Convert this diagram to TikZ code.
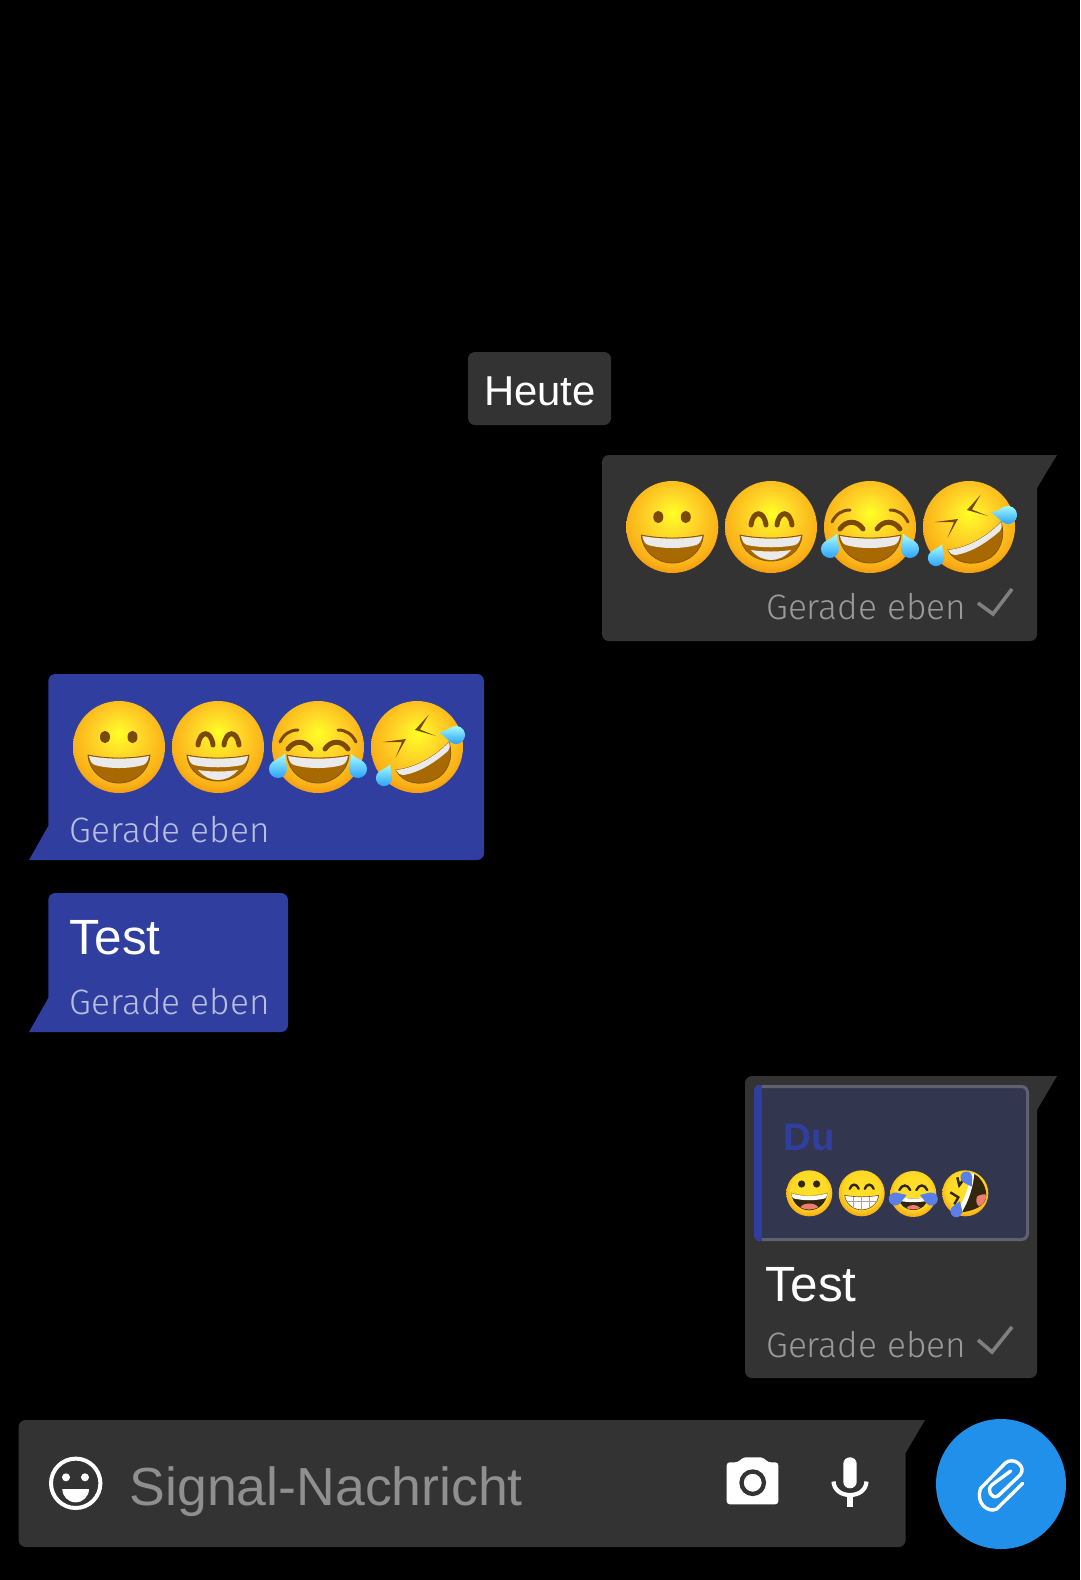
\documentclass[tikz,border=0pt]{standalone}
\usepackage{fontspec}
\setmainfont{Liberation Sans}
\newfontfamily\lightf{Fira Sans Light}
\definecolor{bubble}{HTML}{333333}
\definecolor{blueb}{HTML}{303F9F}
\definecolor{quotef}{HTML}{33364F}
\definecolor{quoteb}{HTML}{5F6070}
\definecolor{meta}{HTML}{9A9A9A}
\definecolor{metab}{HTML}{B9BEE0}
\definecolor{hint}{HTML}{8F8F8F}
\definecolor{check}{HTML}{808080}
\definecolor{fab}{HTML}{2090EA}
\definecolor{abrown}{HTML}{A86A00}
\definecolor{aline}{HTML}{7A4A05}
\definecolor{atooth}{HTML}{EAEAEA}
\definecolor{gblack}{HTML}{33260F}
\definecolor{gpink}{HTML}{EE7C70}
\definecolor{gtear}{HTML}{5B7FE8}
\definecolor{gorange}{HTML}{F29A10}
\pgfdeclareradialshading{aface}{\pgfpoint{0bp}{8bp}}{color(0bp)=(yellow!85!white);color(12bp)=({rgb,255:red,255;green,214;blue,40});color(25bp)=({rgb,255:red,250;green,178;blue,24});color(31bp)=({rgb,255:red,240;green,140;blue,12});color(50bp)=({rgb,255:red,232;green,125;blue,10})}
\pgfdeclareradialshading{gface}{\pgfpoint{0bp}{6bp}}{color(0bp)=({rgb,255:red,255;green,224;blue,40});color(20bp)=({rgb,255:red,255;green,218;blue,36});color(28bp)=({rgb,255:red,246;green,166;blue,20});color(50bp)=({rgb,255:red,235;green,140;blue,15})}
\tikzset{
  txt/.style={inner sep=0pt,anchor=base west},
  metatxt/.style={txt,text=meta,font=\lightf\fontsize{35.3}{36}\selectfont},
  metablue/.style={txt,text=metab,font=\lightf\fontsize{35.3}{36}\selectfont},
  msgtxt/.style={txt,text=white,font=\fontsize{49.5}{50}\selectfont},
  tick/.style={draw=check,line width=3.6pt,line cap=butt,line join=miter},
  aeyearc/.style={draw=aline,line width=5pt,line cap=round},
  geyearc/.style={draw=gblack,line width=2.4pt,line cap=round},
  atear/.pic={\shade[top color=cyan!35!white,bottom color=cyan!55!blue!85!white]
    (0,-17) .. controls (3,-9) and (9,-6) .. (9,0) arc[start angle=0,end angle=180,radius=9] .. controls (-9,-6) and (-3,-9) .. (0,-17) -- cycle;},
  gtearp/.pic={\fill[gtear] (0,0) circle[radius=6.5];\fill[gtear] (-5.5,-3.5) -- (0,-12) -- (5.5,-3.5) -- cycle;}
}
\newcommand\applebase{\shade[shading=aface] (0,0) circle[radius=46];}
\newcommand\applemouth{%
  \fill[abrown,draw=aline!70!abrown,line width=0.8pt] (-31,8) .. controls (-12,12) and (12,12) .. (31,8) .. controls (30,24) and (16,36) .. (0,36) .. controls (-16,36) and (-30,24) .. (-31,8) -- cycle;
  \fill[atooth] (-30,9) .. controls (-12,12.5) and (12,12.5) .. (30,9) .. controls (29,14) and (27,17) .. (24,18) .. controls (10,22) and (-10,22) .. (-24,18) .. controls (-27,17) and (-29,14) .. (-30,9) -- cycle;}
\newcommand\faceA[2]{\begin{scope}[shift={(#1,#2)}]\applebase\applemouth
  \fill[aline] (-14,-10) ellipse[x radius=5,y radius=6.2] (13.5,-10) ellipse[x radius=5,y radius=6.2];
\end{scope}}
\newcommand\faceB[2]{\begin{scope}[shift={(#1,#2)}]\applebase
  \fill[abrown,draw=aline!70!abrown,line width=0.8pt] (-31,8) .. controls (-12,12) and (12,12) .. (31,8) .. controls (30,24) and (16,34) .. (0,34) .. controls (-16,34) and (-30,24) .. (-31,8) -- cycle;
  \fill[atooth] (-30,9) .. controls (-12,12.5) and (12,12.5) .. (30,9) .. controls (29,14) and (27,17) .. (24,18) .. controls (10,21) and (-10,21) .. (-24,18) .. controls (-27,17) and (-29,14) .. (-30,9) -- cycle;
  \fill[atooth] (-20,23) .. controls (-8,25) and (8,25) .. (20,23) .. controls (14,30) and (7,33) .. (0,33) .. controls (-7,33) and (-14,30) .. (-20,23) -- cycle;
  \path[aeyearc] (-20,-2) .. controls (-18,-17) and (-7,-17) .. (-5,-2);
  \path[aeyearc] (6,-2) .. controls (8,-17) and (19,-17) .. (21,-2);
\end{scope}}
\newcommand\faceC[2]{\begin{scope}[shift={(#1,#2)}]\applebase\applemouth
  \path[aeyearc] (-30,2) .. controls (-24,-7) and (-13,-7) .. (-7,2);
  \path[aeyearc] (7,2) .. controls (13,-7) and (24,-7) .. (30,2);
  \path[draw=aline,line width=3pt,line cap=round] (-38,-5) .. controls (-34,-13) and (-28,-17) .. (-20,-17);
  \path[draw=aline,line width=3pt,line cap=round] (38,-5) .. controls (34,-13) and (28,-17) .. (20,-17);
  \pic[shift={(-40,22)},rotate=-25,scale=1.0] {atear};
  \pic[shift={(40,22)},rotate=25,scale=1.0] {atear};
\end{scope}}
\newcommand\faceD[2]{\begin{scope}[shift={(#1,#2)}]\applebase
  \fill[abrown,draw=aline!70!abrown,line width=0.8pt] (-21,23) .. controls (-2,21) and (18,10) .. (32,-5) .. controls (37,10) and (31,27) .. (17,33) .. controls (4,39) and (-14,37) .. (-21,23) -- cycle;
  \fill[atooth] (-21,23) .. controls (-2,21) and (18,10) .. (32,-5) .. controls (33,-1) and (33,2) .. (31,4) .. controls (17,16) and (3,25) .. (-13,28) .. controls (-17,28) and (-20,26) .. (-21,23) -- cycle;
  \fill[aline] (11.7,-32.3) -- (-2,-17) -- (19,-11) -- (3,-17.5) -- cycle;
  \fill[aline] (-34.3,-5) -- (-11,-8) -- (-21.7,11) -- (-15,-5) -- cycle;
  \pic[shift={(39,-12)},rotate=82,scale=1.0] {atear};
  \pic[shift={(-33,31)},rotate=-25,scale=0.9] {atear};
\end{scope}}
\newcommand\gbase{\shade[shading=gface] (0,0) circle[radius=23];}
\begin{document}
\begin{tikzpicture}[x=1pt,y=-1pt]
\useasboundingbox (0,0) rectangle (1080,1580);
\fill[black] (0,0) rectangle (1080,1580);

% date pill
\fill[bubble,rounded corners=7pt] (468,352) rectangle (611,425);
\node[text=white,inner sep=0pt,anchor=base,font=\fontsize{41.8}{42}\selectfont] (heute) at (540,405) {Heute};

% outgoing emoji bubble
\fill[bubble] (1037,488) [rounded corners=7pt] -- (1037,641) -- (602,641) -- (602,455) [sharp corners] -- (1057,455) -- cycle;
\faceA{672.3}{527}\faceB{771}{527}\faceC{870}{527}\faceD{969}{527}
\node[metatxt] (meta1) at (766,619) {Gerade eben};
\coordinate (t1a) at (978,603);\coordinate (t1b) at (993,614);\coordinate (t1c) at (1012,589);
\draw[tick] (t1a) -- (t1b) -- (t1c);

% incoming emoji bubble
\fill[blueb] (48.3,826) [rounded corners=7pt] -- (48.3,674) -- (484,674) -- (484,860) [sharp corners] -- (29,860) -- cycle;
\faceA{119}{747}\faceB{218}{747}\faceC{318}{747}\faceD{417}{747}
\node[metablue] (meta2) at (69.5,842) {Gerade eben};

% incoming text bubble
\fill[blueb] (48.3,998) [rounded corners=7pt] -- (48.3,893) -- (288,893) -- (288,1032) [sharp corners] -- (29,1032) -- cycle;
\node[msgtxt] (test1) at (69.5,954) {Test};
\node[metablue] (meta3) at (69.5,1014) {Gerade eben};

% outgoing quote bubble
\fill[bubble] (1037,1110) [rounded corners=7pt] -- (1037,1378) -- (745,1378) -- (745,1076) [sharp corners] -- (1057,1076) -- cycle;
\begin{scope}
  \clip[rounded corners=6pt] (754,1085) rectangle (1029,1241);
  \fill[quotef] (754,1085) rectangle (1029,1241);
  \draw[quoteb,line width=3pt,rounded corners=6pt] (754,1086.5) -- (1027.5,1086.5) -- (1027.5,1239.5) -- (754,1239.5);
  \fill[blueb] (754,1085) rectangle (762,1241);
\end{scope}
\node[txt,text=blueb,font=\bfseries\fontsize{38.5}{40}\selectfont] (du) at (783.5,1150.5) {Du};

% Google emoji 1
\begin{scope}[shift={(809.3,1193.3)}]\gbase
  \fill[gblack] (-7.7,-9.3) circle[radius=3.6] (7.3,-9.3) circle[radius=3.6];
  \fill[gorange] (-18.5,-1) .. controls (-6,3) and (6,3) .. (18.5,-1) -- (18,2) -- (-18,2) -- cycle;
  \fill[gblack] (-18,0) .. controls (-6,3.5) and (6,3.5) .. (18,0) .. controls (17,10) and (9,17) .. (0,17) .. controls (-9,17) and (-17,10) .. (-18,0) -- cycle;
  \fill[white] (-18,0) .. controls (-6,3.5) and (6,3.5) .. (18,0) .. controls (17.5,3) and (17,4) .. (16,5) .. controls (6,7.5) and (-6,7.5) .. (-16,5) .. controls (-17,4) and (-17.5,3) .. (-18,0) -- cycle;
  \fill[gpink] (-9,14) .. controls (-6,9) and (6,9) .. (9,14) .. controls (4,17) and (-4,17) .. (-9,14) -- cycle;
\end{scope}
% Google emoji 2
\begin{scope}[shift={(861.7,1193.3)}]\gbase
  \path[geyearc] (-12,-4.5) .. controls (-10,-10) and (-5,-10) .. (-3,-4.5);
  \path[geyearc] (3,-4.5) .. controls (5,-10) and (10,-10) .. (12,-4.5);
  \fill[white,draw=gblack!60!gorange,line width=0.6pt] (-17,2) .. controls (-6,4) and (6,4) .. (17,2) .. controls (16,10) and (9,16.5) .. (0,16.5) .. controls (-9,16.5) and (-16,10) .. (-17,2) -- cycle;
  \draw[gray!70,line width=0.7pt] (-16,8.5) -- (16,8.5) (-8,3.5) -- (-8,15) (0,3.5) -- (0,16.5) (8,3.5) -- (8,15);
\end{scope}
% Google emoji 3
\begin{scope}[shift={(913.3,1194)}]\gbase
  \path[geyearc] (-14,-4) .. controls (-11,-10) and (-6,-10) .. (-3,-4);
  \path[geyearc] (3,-4) .. controls (6,-10) and (11,-10) .. (14,-4);
  \fill[gblack] (-15,3) .. controls (-5,5) and (5,5) .. (15,3) .. controls (14,11) and (8,16) .. (0,16) .. controls (-8,16) and (-14,11) .. (-15,3) -- cycle;
  \fill[white] (-15,3) .. controls (-5,5) and (5,5) .. (15,3) .. controls (14.5,5) and (14,6) .. (13,7) .. controls (5,8.5) and (-5,8.5) .. (-13,7) .. controls (-14,6) and (-14.5,5) .. (-15,3) -- cycle;
  \fill[gpink] (-7,14) .. controls (-4,10) and (4,10) .. (7,14) .. controls (3,16) and (-3,16) .. (-7,14) -- cycle;
  \pic[shift={(-18,5)},rotate=-70] {gtearp};
  \pic[shift={(18,5)},rotate=70] {gtearp};
\end{scope}
% Google emoji 4
\begin{scope}[shift={(965.3,1193.3)}]\gbase
  \fill[gblack] (7,-20) .. controls (14,-18) and (21,-8) .. (21,2) .. controls (21,9) and (16,16) .. (-3,19) -- cycle;
  \fill[gpink] (12,3) .. controls (16,1) and (20,0) .. (21,2) .. controls (21,6) and (18,11) .. (14,13) .. controls (11,11) and (10,7) .. (12,3) -- cycle;
  \fill[white] (6,-20) -- (9,-20) .. controls (8,-6) and (3,8) .. (-3,18) -- (-7,16) .. controls (-1,6) and (4,-8) .. (6,-20) -- cycle;
  \draw[gblack,line width=2.4pt,line join=miter] (-8,-16) -- (-6,-8) -- (-1,-15);
  \draw[gblack,line width=2.4pt,line join=miter] (-15,-1) -- (-7,4) -- (-11,11);
  \pic[shift={(1,-16)},rotate=-150,scale=0.9] {gtearp};
  \pic[shift={(-9,18)},rotate=-20,scale=0.9] {gtearp};
\end{scope}

\node[msgtxt] (test2) at (765.5,1301.5) {Test};
\node[metatxt] (meta4) at (766,1357.5) {Gerade eben};
\coordinate (t2a) at (978,1340);\coordinate (t2b) at (992,1352);\coordinate (t2c) at (1012,1327);
\draw[tick] (t2a) -- (t2b) -- (t2c);

% input bar
\fill[bubble] (905.6,1453) [rounded corners=7pt] -- (905.6,1547) -- (18.6,1547) -- (18.6,1420) [sharp corners] -- (925,1420) -- cycle;
\draw[white,line width=4pt] (75.7,1483.3) circle[radius=24.7];
\fill[white] (66,1477.3) circle[radius=4] (85,1477.3) circle[radius=4];
\fill[white] (62.3,1489) -- (89,1489) arc[start angle=0,end angle=180,radius=13.35] -- cycle;
\node[txt,text=hint,font=\fontsize{53.6}{54}\selectfont] (hintt) at (129.5,1505) {Signal-Nachricht};

% camera
\fill[white,rounded corners=3pt] (726.7,1504.3) -- (726.7,1462.3) -- (738,1462.3) -- (743,1457.3) -- (763,1457.3) -- (768,1462.3) -- (778.3,1462.3) -- (778.3,1504.3) -- cycle;
\draw[bubble,line width=4.3pt] (752.7,1482.7) circle[radius=11.2];

% microphone
\fill[white,rounded corners=6.6pt] (843.3,1457.3) rectangle (856.7,1488.3);
\draw[white,line width=4.2pt] (833.5,1481.5) .. controls (834,1490) and (841,1495) .. (850,1495) .. controls (859,1495) and (866,1490) .. (866.5,1481.5);
\fill[white] (847.2,1494) rectangle (852.8,1506.7);

% attach button
\fill[fab] (1001,1484) circle[radius=65];
\draw[white,line width=3.4pt,line cap=round,line join=round]
  (1022.7,1483.3) -- (996.7,1509) .. controls (988.3,1513.3) and (975,1503.3) .. (980.7,1488.3)
  -- (1005,1463.3) .. controls (1013.3,1455.7) and (1027.3,1466.7) .. (1020,1475)
  -- (998.3,1495.7) .. controls (991.7,1500) and (986,1490) .. (991.7,1485) -- (1010.7,1471);
\end{tikzpicture}
\end{document}
